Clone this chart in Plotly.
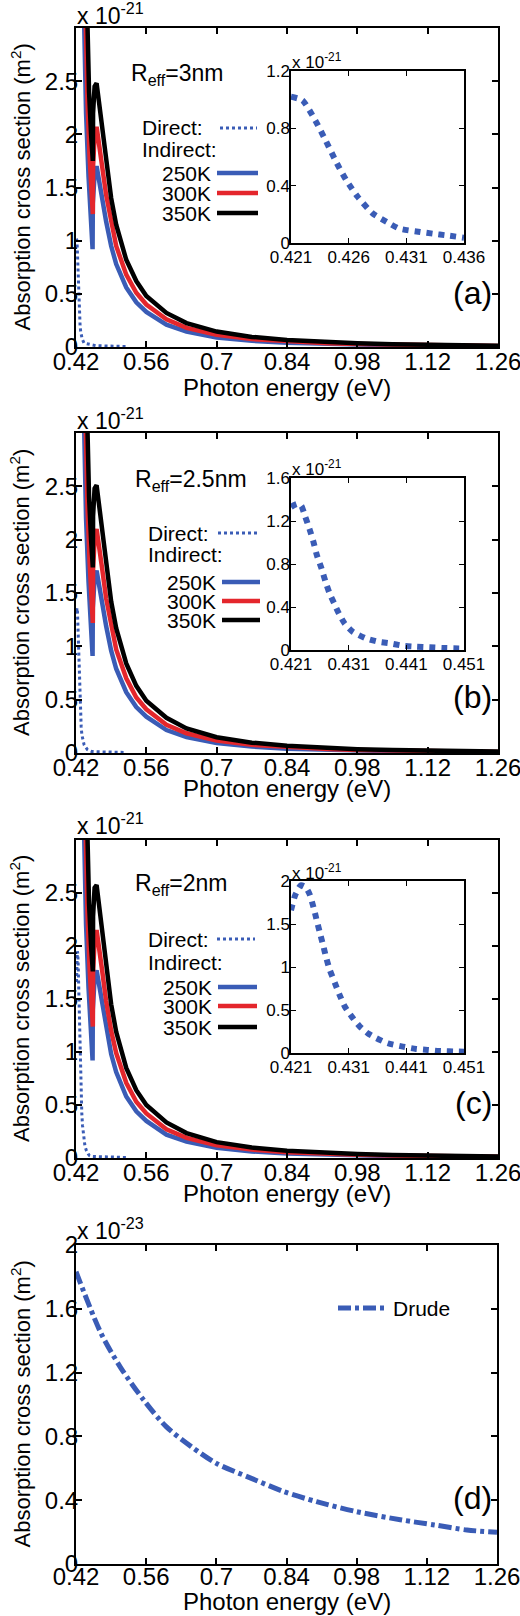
import plotly.graph_objects as go

W, H = 520, 1616
FONT = "Arial, Liberation Sans, Helvetica, sans-serif"
BLUE = "#3a5cb6"
RED = "#e4262c"
BLACK = "#000000"

# ---------------- tick labels ----------------
energy_tickvals = [0.42, 0.56, 0.70, 0.84, 0.98, 1.12, 1.26]
energy_ticktext = ["0.42", "0.56", "0.7", "0.84", "0.98", "1.12", "1.26"]
sigma_tickvals = [0, 0.5, 1, 1.5, 2, 2.5]
sigma_ticktext = ["0", "0.5", "1", "1.5", "2", "2.5"]
drude_tickvals = [0, 0.4, 0.8, 1.2, 1.6, 2]
drude_ticktext = ["0", "0.4", "0.8", "1.2", "1.6", "2"]
inset_a_xtickvals = [0.421, 0.426, 0.431, 0.436]
inset_bc_xtickvals = [0.421, 0.431, 0.441, 0.451]
inset_a_ytickvals = [0, 0.4, 0.8, 1.2]
inset_b_ytickvals = [0, 0.4, 0.8, 1.2, 1.6]
inset_c_ytickvals = [0, 0.5, 1, 1.5, 2]
inset_c_yticktext = ["0", "0.5", "1", "1.5", "2"]

# ---------------- direct transitions (x 1e-21 m^2) ----------------
direct_a_x = [0.4210, 0.4220, 0.4231, 0.4240, 0.4250, 0.4258, 0.4268, 0.4281,
              0.4293, 0.4304, 0.4322, 0.4333, 0.4345, 0.4360]
direct_a_y = [1.02, 0.995, 0.856, 0.716, 0.553, 0.437, 0.321, 0.205,
              0.147, 0.100, 0.077, 0.065, 0.053, 0.037]
direct_b_x = [0.4210, 0.4214, 0.4222, 0.4228, 0.4234, 0.4242, 0.4249, 0.4255,
              0.4263, 0.4270, 0.4277, 0.4285, 0.4293, 0.4303, 0.4317, 0.4340,
              0.4361, 0.4381, 0.4404, 0.4427, 0.4450, 0.4473, 0.4501, 0.4510]
direct_b_y = [1.33, 1.344, 1.36, 1.34, 1.25, 1.127, 1.004, 0.88,
              0.757, 0.633, 0.525, 0.432, 0.34, 0.247, 0.17, 0.108,
              0.077, 0.062, 0.040, 0.031, 0.025, 0.019, 0.015, 0.014]
direct_c_x = [0.4210, 0.4217, 0.4227, 0.4235, 0.4242, 0.4249, 0.4254, 0.4260,
              0.4266, 0.4271, 0.4277, 0.4286, 0.4294, 0.4303, 0.4315, 0.4329,
              0.4343, 0.4358, 0.4378, 0.4404, 0.4427, 0.4447, 0.4467, 0.4501, 0.4510]
direct_c_y = [1.66, 1.83, 1.95, 1.93, 1.85, 1.695, 1.56, 1.40,
              1.246, 1.11, 0.97, 0.816, 0.68, 0.543, 0.426, 0.31,
              0.23, 0.172, 0.113, 0.074, 0.047, 0.035, 0.023, 0.016, 0.015]
direct_tail_x = [0.46, 0.48, 0.50, 0.52]
direct_tail_a_y = [0.012, 0.008, 0.006, 0.005]
direct_tail_b_y = [0.012, 0.008, 0.006, 0.005]
direct_tail_c_y = [0.013, 0.009, 0.006, 0.005]

# ---------------- indirect transitions (x 1e-21 m^2) ----------------
ind_250_x = [0.432, 0.436, 0.440, 0.445, 0.450, 0.453, 0.4535, 0.457, 0.461, 0.466,
             0.472, 0.48, 0.49, 0.50, 0.52, 0.54, 0.56, 0.60, 0.64, 0.70,
             0.77, 0.84, 0.92, 0.98, 1.05, 1.12, 1.19, 1.26]
ind_300_x = [0.435, 0.439, 0.443, 0.447, 0.451, 0.4535, 0.454, 0.457, 0.461, 0.466,
             0.472, 0.48, 0.49, 0.50, 0.52, 0.54, 0.56, 0.60, 0.64, 0.70,
             0.77, 0.84, 0.92, 0.98, 1.05, 1.12, 1.19, 1.26]
ind_350_x = [0.438, 0.442, 0.446, 0.450, 0.4535, 0.454, 0.457, 0.461, 0.466,
             0.472, 0.48, 0.49, 0.50, 0.52, 0.54, 0.56, 0.60, 0.64, 0.70,
             0.77, 0.84, 0.92, 0.98, 1.05, 1.12, 1.19, 1.26]

a_250 = [4.0, 3.0, 2.2, 1.6, 1.15, 0.92, 1.35, 1.62, 1.70, 1.58, 1.40, 1.18, 0.95, 0.78,
         0.56, 0.42, 0.33, 0.21, 0.145, 0.09, 0.058, 0.04, 0.027, 0.021, 0.016, 0.012, 0.009, 0.007]
a_300 = [4.0, 3.0, 2.3, 1.8, 1.4, 1.25, 1.7, 1.98, 2.07, 1.92, 1.70, 1.43, 1.16, 0.95,
         0.68, 0.51, 0.40, 0.26, 0.18, 0.115, 0.075, 0.052, 0.036, 0.028, 0.021, 0.016, 0.012, 0.009]
a_350 = [4.0, 3.0, 2.4, 2.0, 1.75, 2.2, 2.45, 2.48, 2.30, 2.05, 1.72, 1.40, 1.15, 0.82,
         0.62, 0.48, 0.32, 0.225, 0.145, 0.095, 0.065, 0.045, 0.035, 0.026, 0.02, 0.015, 0.012]

b_250 = [4.0, 3.0, 2.2, 1.6, 1.15, 0.91, 1.36, 1.63, 1.71, 1.59, 1.41, 1.19, 0.96, 0.79,
         0.57, 0.43, 0.34, 0.215, 0.15, 0.093, 0.06, 0.041, 0.028, 0.022, 0.017, 0.013, 0.010, 0.008]
b_300 = [4.0, 3.0, 2.3, 1.8, 1.4, 1.22, 1.72, 2.0, 2.10, 1.95, 1.73, 1.45, 1.18, 0.97,
         0.70, 0.52, 0.41, 0.265, 0.185, 0.118, 0.077, 0.054, 0.037, 0.029, 0.022, 0.017, 0.013, 0.010]
b_350 = [4.0, 3.0, 2.4, 2.0, 1.74, 2.22, 2.48, 2.51, 2.33, 2.08, 1.75, 1.42, 1.17, 0.84,
         0.63, 0.49, 0.33, 0.23, 0.148, 0.097, 0.067, 0.046, 0.036, 0.027, 0.021, 0.016, 0.013]

c_250 = [4.0, 3.0, 2.2, 1.6, 1.15, 0.92, 1.40, 1.69, 1.77, 1.64, 1.45, 1.22, 0.98, 0.81,
         0.58, 0.44, 0.35, 0.22, 0.155, 0.096, 0.062, 0.042, 0.029, 0.023, 0.018, 0.014, 0.011, 0.009]
c_300 = [4.0, 3.0, 2.3, 1.8, 1.4, 1.24, 1.75, 2.05, 2.15, 2.0, 1.77, 1.48, 1.20, 0.99,
         0.71, 0.53, 0.42, 0.27, 0.19, 0.12, 0.079, 0.055, 0.038, 0.030, 0.023, 0.018, 0.014, 0.011]
c_350 = [4.0, 3.0, 2.4, 2.0, 1.76, 2.28, 2.55, 2.575, 2.38, 2.12, 1.78, 1.45, 1.19, 0.85,
         0.64, 0.50, 0.335, 0.235, 0.15, 0.099, 0.068, 0.047, 0.037, 0.028, 0.022, 0.017, 0.014]

# ---------------- Drude (x 1e-23 m^2) ----------------
drude_x = [0.42, 0.47, 0.51, 0.555, 0.60, 0.65, 0.70, 0.77, 0.835, 0.90, 0.98, 1.07, 1.135, 1.20, 1.26]
drude_y = [1.833, 1.446, 1.227, 1.028, 0.861, 0.736, 0.631, 0.537, 0.4535, 0.391, 0.328, 0.276, 0.245, 0.213, 0.199]

# ---------------- geometry helpers (pixels -> paper) ----------------
def px(x):
    return x / W

def py(y):
    return 1 - y / H

fig = go.Figure()

panels = [
    dict(mx="x", my="y", ix="x2", iy="y2", dx=direct_a_x, dy=direct_a_y, ty=direct_tail_a_y,
         ind=(a_250, a_300, a_350)),
    dict(mx="x3", my="y3", ix="x4", iy="y4", dx=direct_b_x, dy=direct_b_y, ty=direct_tail_b_y,
         ind=(b_250, b_300, b_350)),
    dict(mx="x5", my="y5", ix="x6", iy="y6", dx=direct_c_x, dy=direct_c_y, ty=direct_tail_c_y,
         ind=(c_250, c_300, c_350)),
]

for p in panels:
    fig.add_trace(go.Scatter(x=p["dx"] + direct_tail_x, y=p["dy"] + p["ty"], xaxis=p["mx"], yaxis=p["my"],
                             mode="lines", line=dict(color=BLUE, width=3, dash="dot"), showlegend=False))
    for xs, ys, col in zip((ind_250_x, ind_300_x, ind_350_x), p["ind"], (BLUE, RED, BLACK)):
        fig.add_trace(go.Scatter(x=xs, y=ys, xaxis=p["mx"], yaxis=p["my"], mode="lines",
                                 line=dict(color=col, width=4.5), showlegend=False))
    fig.add_trace(go.Scatter(x=p["dx"], y=p["dy"], xaxis=p["ix"], yaxis=p["iy"], mode="lines",
                             line=dict(color=BLUE, width=6, dash="dot", shape="spline", smoothing=0.6),
                             showlegend=False))

fig.add_trace(go.Scatter(x=drude_x, y=drude_y, xaxis="x7", yaxis="y7", mode="lines",
                         line=dict(color=BLUE, width=5, dash="13px,4px,4px,4px", shape="spline", smoothing=0.8),
                         showlegend=False))

# ---------------- axes ----------------
main_tickfont = dict(family=FONT, size=24, color="black")
inset_tickfont = dict(family=FONT, size=17, color="black")

def main_axis(domain, anchor, rng, tv, tt, standoff):
    return dict(domain=domain, anchor=anchor, range=rng, tickvals=tv, ticktext=tt,
                ticks="inside", ticklen=6, tickwidth=1.5, tickcolor="black",
                showline=True, linecolor="black", linewidth=2, mirror="allticks",
                showgrid=False, zeroline=False, automargin=False, tickfont=main_tickfont,
                ticklabeloverflow="allow", ticklabelstandoff=standoff)

def inset_axis(domain, anchor, rng, tv, tt=None, standoff=0):
    d = dict(domain=domain, anchor=anchor, range=rng, tickvals=tv,
             ticks="inside", ticklen=5, tickwidth=1.2, tickcolor="black",
             showline=True, linecolor="black", linewidth=1.5, mirror="allticks",
             showgrid=False, zeroline=False, automargin=False, tickfont=inset_tickfont,
             ticklabeloverflow="allow", ticklabelstandoff=standoff)
    if tt is not None:
        d["ticktext"] = tt
    return d

XD = [px(76), px(498)]
IXD = [px(291), px(464)]
XS, YS = -8, -9

layout = dict(
    template="none",
    width=W, height=H, margin=dict(l=0, r=0, t=0, b=0, pad=0), autosize=False,
    paper_bgcolor="white", plot_bgcolor="rgba(0,0,0,0)",
    showlegend=False,
    xaxis=main_axis(XD, "y", [0.42, 1.26], energy_tickvals, energy_ticktext, XS),
    yaxis=main_axis([py(347), py(28)], "x", [0, 3], sigma_tickvals, sigma_ticktext, YS),
    xaxis2=inset_axis(IXD, "y2", [0.421, 0.436], inset_a_xtickvals, standoff=-2),
    yaxis2=inset_axis([py(243), py(71)], "x2", [0, 1.2], inset_a_ytickvals, standoff=-4),
    xaxis3=main_axis(XD, "y3", [0.42, 1.26], energy_tickvals, energy_ticktext, XS),
    yaxis3=main_axis([py(753), py(433)], "x3", [0, 3], sigma_tickvals, sigma_ticktext, YS),
    xaxis4=inset_axis(IXD, "y4", [0.421, 0.451], inset_bc_xtickvals, standoff=-2),
    yaxis4=inset_axis([py(650), py(478)], "x4", [0, 1.6], inset_b_ytickvals, standoff=-4),
    xaxis5=main_axis(XD, "y5", [0.42, 1.26], energy_tickvals, energy_ticktext, XS),
    yaxis5=main_axis([py(1158), py(840)], "x5", [0, 3], sigma_tickvals, sigma_ticktext, YS),
    xaxis6=inset_axis(IXD, "y6", [0.421, 0.451], inset_bc_xtickvals, standoff=-2),
    yaxis6=inset_axis([py(1053), py(881)], "x6", [0, 2], inset_c_ytickvals, inset_c_yticktext, standoff=-4),
    xaxis7=main_axis([px(76), px(497)], "y7", [0.42, 1.26], energy_tickvals, energy_ticktext, -10),
    yaxis7=main_axis([py(1564), py(1245)], "x7", [0, 2], drude_tickvals, drude_ticktext, YS),
)

annotations = []
shapes = []

def text(x, y, s, size, xanchor="left", yanchor="middle", angle=0):
    annotations.append(dict(x=px(x), y=py(y), xref="paper", yref="paper", text=s, showarrow=False,
                            xanchor=xanchor, yanchor=yanchor, textangle=angle, borderpad=0,
                            font=dict(family=FONT, size=size, color="black")))

def seg(x0, x1, y, color, width, dash="solid"):
    shapes.append(dict(type="line", xref="paper", yref="paper", x0=px(x0), x1=px(x1), y0=py(y), y1=py(y),
                       line=dict(color=color, width=width, dash=dash)))

panel_info = [
    dict(top=28, bottom=347, exp_y=14, ins_exp_y=61, reff="R<sub>eff</sub>=3nm", reff_x=130, reff_y=74,
         leg_x=141, leg_y=[128, 149, 173, 193, 213], ln_d=(220, 257), ln_i=(217, 258), label="(a)", lab_y=293,
         title_y=387),
    dict(top=433, bottom=753, exp_y=419, ins_exp_y=468, reff="R<sub>eff</sub>=2.5nm", reff_x=134, reff_y=480,
         leg_x=147, leg_y=[533, 554, 582, 601, 620], ln_d=(218, 257), ln_i=(222, 260), label="(b)", lab_y=697,
         title_y=788),
    dict(top=840, bottom=1158, exp_y=824, ins_exp_y=872, reff="R<sub>eff</sub>=2nm", reff_x=134, reff_y=884,
         leg_x=147, leg_y=[939, 962, 987, 1006, 1027], ln_d=(217, 255), ln_i=(218, 257), label="(c)", lab_y=1103,
         title_y=1193),
]

for p in panel_info:
    text(76, p["exp_y"], "x 10<sup>-21</sup>", 23)
    text(291, p["ins_exp_y"], "x 10<sup>-21</sup>", 17)
    text(p["reff_x"], p["reff_y"], p["reff"], 23)
    ly = p["leg_y"]
    text(p["leg_x"], ly[0], "Direct:", 21)
    text(p["leg_x"], ly[1], "Indirect:", 21)
    for yy, lab in zip(ly[2:], ["250K", "300K", "350K"]):
        text(p["ln_i"][0] - 5, yy, lab, 21, xanchor="right")
    seg(p["ln_d"][0], p["ln_d"][1], ly[0], BLUE, 3, "dot")
    for yy, col in zip(ly[2:], [BLUE, RED, BLACK]):
        seg(p["ln_i"][0], p["ln_i"][1], yy, col, 4.5)
    text(493, p["lab_y"], p["label"], 32, xanchor="right")
    text(20, (p["top"] + p["bottom"]) / 2, "Absorption cross section (m<sup>2</sup>)", 22, xanchor="center", angle=-90)
    text(287, p["title_y"], "Photon energy (eV)", 24, xanchor="center")

# panel d
text(76, 1229, "x 10<sup>-23</sup>", 23)
seg(338, 387, 1308, BLUE, 5, "13px,4px,4px,4px")
text(392, 1308, "Drude", 21)
text(493, 1498, "(d)", 32, xanchor="right")
text(20, (1245 + 1564) / 2, "Absorption cross section (m<sup>2</sup>)", 22, xanchor="center", angle=-90)
text(287, 1601, "Photon energy (eV)", 24, xanchor="center")

layout["annotations"] = annotations
layout["shapes"] = shapes
fig.update_layout(**layout)
fig.write_html("out.html")
